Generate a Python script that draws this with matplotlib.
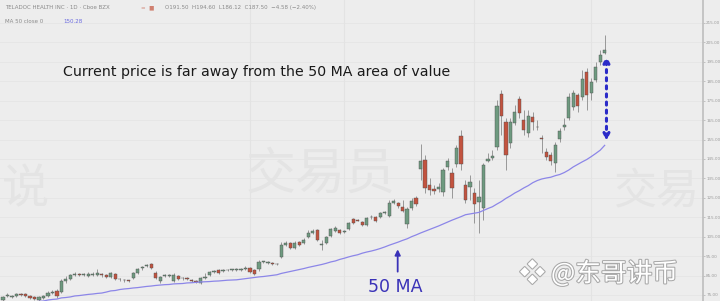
import numpy as np
import matplotlib.pyplot as plt
import matplotlib.patheffects as pe

# daily OHLC (price units)
opens = [72.4, 74.5, 74.0, 74.5, 75.5, 75.5, 74.5, 74.0, 72.4, 73.5,
         74.5, 76.0, 77.1, 76.5, 82.2, 83.2, 85.3, 85.8, 85.3, 84.8,
         85.3, 85.3, 85.8, 85.3, 84.3, 85.8, 83.2, 82.7, 82.2, 83.7,
         86.3, 88.9, 89.9, 91.0, 86.3, 82.2, 84.8, 84.8, 82.2, 84.8,
         83.7, 83.7, 82.7, 82.2, 81.2, 83.7, 85.3, 86.8, 87.9, 87.4,
         87.6, 87.9, 87.9, 87.9, 88.4, 88.9, 87.9, 88.4, 92.0, 91.5,
         91.5, 91.0, 94.6, 100.7, 101.8, 99.2, 102.3, 101.8, 104.9, 106.9,
         108.5, 100.7, 101.8, 105.4, 107.9, 108.5, 107.4, 109.0, 114.1, 113.6,
         112.6, 111.0, 114.9, 115.1, 115.1, 117.2, 115.7, 122.3, 122.3, 120.3,
         111.5, 119.8, 124.9, 139.8, 144.5, 131.6, 129.6, 129.6, 128.0, 140.9,
         137.8, 142.4, 156.8, 131.6, 130.6, 127.5, 122.9, 119.8, 144.0, 145.5,
         151.2, 178.5, 164.0, 153.2, 163.5, 175.9, 165.1, 158.4, 166.6, 161.5,
         155.8, 148.6, 147.1, 142.9, 155.3, 161.5, 166.1, 171.8, 177.9, 176.9,
         189.8, 179.0, 185.7, 194.9, 199.6]
closes = [74.0, 75.0, 74.5, 75.5, 75.0, 74.5, 73.5, 72.9, 74.0, 74.5,
          76.0, 76.5, 74.5, 82.2, 83.2, 85.3, 85.8, 85.3, 85.8, 85.8,
          85.8, 86.3, 85.3, 84.3, 86.3, 83.2, 83.0, 82.5, 82.1, 86.3,
          88.4, 89.4, 90.4, 88.9, 83.7, 84.3, 85.3, 85.3, 85.3, 83.2,
          83.5, 83.2, 82.2, 81.7, 83.7, 84.3, 86.8, 87.4, 86.3, 87.9,
          87.9, 88.0, 88.1, 88.4, 88.9, 86.8, 85.8, 92.0, 92.1, 92.0,
          91.0, 90.7, 100.7, 101.8, 99.2, 101.8, 100.7, 103.3, 106.9, 107.9,
          103.3, 101.0, 104.9, 109.0, 109.5, 106.9, 107.7, 112.1, 112.1, 113.3,
          111.0, 114.6, 115.1, 113.1, 117.2, 117.4, 122.3, 123.4, 120.8, 118.2,
          119.3, 123.4, 121.8, 144.0, 130.1, 129.0, 128.5, 130.6, 139.3, 144.0,
          130.1, 150.7, 142.4, 123.9, 133.2, 121.8, 125.4, 141.9, 145.0, 146.5,
          172.3, 167.1, 147.1, 164.0, 169.2, 168.7, 159.9, 167.1, 164.0, 161.2,
          155.5, 146.0, 144.0, 152.2, 159.4, 162.5, 176.9, 179.0, 172.3, 186.2,
          177.9, 184.6, 192.4, 198.5, 201.1]
highs = [74.5, 76.0, 75.0, 76.0, 76.0, 76.0, 75.0, 74.5, 74.5, 75.0,
         77.1, 77.6, 78.1, 83.2, 84.8, 85.8, 86.8, 86.3, 86.3, 86.8,
         86.8, 88.4, 86.3, 85.8, 86.8, 86.3, 83.7, 83.2, 82.7, 86.8,
         88.9, 89.9, 91.0, 91.5, 87.4, 84.8, 85.8, 85.8, 86.3, 85.3,
         84.3, 84.3, 83.2, 82.7, 84.3, 86.3, 87.4, 87.9, 88.4, 88.4,
         88.4, 88.4, 88.9, 88.9, 89.9, 89.4, 88.4, 93.0, 92.5, 92.5,
         92.0, 91.5, 102.3, 102.8, 102.3, 102.8, 102.8, 104.3, 108.5, 109.0,
         109.0, 103.3, 105.4, 109.5, 110.5, 109.0, 108.5, 112.6, 114.6, 114.1,
         113.1, 115.1, 116.2, 115.7, 117.7, 118.2, 123.9, 124.4, 122.9, 123.9,
         120.3, 124.9, 126.0, 152.7, 147.1, 135.2, 131.6, 132.6, 140.4, 145.5,
         140.4, 152.2, 159.9, 134.2, 136.8, 130.1, 134.2, 142.9, 148.1, 149.6,
         175.4, 180.5, 166.1, 166.1, 172.8, 177.4, 170.2, 170.2, 169.2, 165.1,
         157.3, 150.7, 148.6, 153.7, 160.9, 166.1, 179.0, 180.5, 179.0, 190.8,
         191.8, 186.7, 194.9, 201.1, 208.8]
lows = [71.9, 74.0, 73.5, 74.0, 74.5, 74.0, 72.9, 72.4, 71.9, 72.9,
        74.0, 75.5, 73.5, 76.0, 81.2, 82.7, 84.8, 84.8, 84.8, 84.3,
        84.8, 84.8, 84.3, 83.7, 83.7, 82.7, 82.2, 81.7, 81.7, 83.2,
        85.8, 87.9, 89.4, 88.4, 83.2, 81.2, 84.3, 84.3, 81.7, 82.7,
        82.7, 82.7, 81.7, 81.2, 80.7, 83.2, 84.8, 86.3, 85.8, 86.8,
        87.4, 87.4, 87.4, 87.4, 87.9, 86.3, 85.3, 87.4, 91.5, 91.0,
        90.4, 90.4, 94.0, 100.2, 98.7, 98.7, 100.2, 101.3, 104.3, 106.4,
        102.8, 98.2, 101.3, 104.9, 107.4, 106.4, 106.9, 108.5, 111.5, 113.1,
        110.5, 110.5, 114.1, 112.6, 114.6, 116.7, 115.1, 121.8, 119.8, 117.7,
        109.5, 118.8, 120.8, 134.2, 127.5, 126.5, 127.0, 128.0, 126.0, 139.3,
        124.9, 140.9, 139.3, 122.3, 123.9, 112.1, 106.9, 113.6, 143.5, 144.5,
        149.6, 157.3, 139.3, 150.7, 162.5, 166.1, 157.3, 156.3, 159.9, 159.9,
        148.1, 144.5, 141.9, 138.3, 153.7, 159.9, 165.1, 170.2, 169.2, 175.4,
        170.2, 175.4, 184.6, 193.4, 199.0]
# 50-day moving average as shown on the chart
ma50 = [67.8, 68.3, 68.8, 69.3, 69.9, 70.4, 70.9, 71.4, 71.7, 71.9,
        72.4, 72.7, 72.9, 73.5, 73.7, 74.0, 74.5, 74.7, 75.0, 75.3,
        75.5, 75.8, 76.0, 76.5, 77.1, 77.3, 77.8, 78.1, 78.3, 78.6,
        78.8, 79.1, 79.4, 79.6, 79.9, 80.1, 80.3, 80.4, 80.7, 80.8,
        80.9, 81.2, 81.3, 81.5, 81.7, 81.8, 81.9, 82.1, 82.2, 82.4,
        82.6, 82.7, 82.8, 83.1, 83.4, 83.7, 84.0, 84.3, 84.5, 84.8,
        85.1, 85.4, 86.1, 86.6, 87.1, 87.6, 88.1, 88.6, 89.2, 89.7,
        90.2, 90.7, 91.3, 92.0, 92.5, 93.3, 93.9, 94.6, 95.2, 95.7,
        96.5, 97.1, 97.6, 98.2, 98.9, 99.7, 100.6, 101.4, 102.2, 103.1,
        103.9, 105.0, 105.9, 106.9, 107.8, 108.7, 109.6, 110.5, 111.5, 112.5,
        113.5, 114.4, 115.3, 116.3, 116.7, 117.1, 117.5, 118.5, 119.5, 120.4,
        121.8, 123.1, 124.7, 126.0, 127.5, 128.7, 130.1, 131.3, 132.8, 133.9,
        134.7, 135.2, 135.6, 136.4, 137.0, 138.0, 139.3, 140.9, 142.2, 143.5,
        144.7, 146.2, 147.8, 149.5, 152.0]
price_ticks = [75, 85, 95, 105, 115, 125, 135, 145, 155, 165, 175, 185, 195, 205, 215]

bg = '#ededed'
up_c = '#6e9a80'
dn_c = '#c2533f'

fig = plt.figure(figsize=(7.2, 3.01), dpi=100)
fig.patch.set_facecolor(bg)
ax = fig.add_axes([0, 0, 703 / 720, 1])
ax.set_facecolor(bg)

idx = np.arange(len(opens))
o = np.array(opens); c = np.array(closes)
h = np.array(highs); l = np.array(lows)
up = c >= o
cols = np.where(up, up_c, dn_c)

ax.vlines(idx, l, h, color='#8a8a8a', lw=0.6, zorder=2)
ax.bar(idx, np.maximum(np.abs(c - o), 0.35), bottom=np.minimum(o, c), width=0.72,
       color=cols, edgecolor='#4f4f4f', linewidth=0.3, zorder=3)

ax.plot(idx, ma50, color='#8c86e8', lw=0.9, zorder=4)

# faint grid
for t in price_ticks:
    ax.axhline(t, color='#e5e5e5', lw=0.6, zorder=0)
for gx in [55, 76, 105, 131]:
    ax.axvline(gx, color='#e3e3e3', lw=0.8, zorder=0)

ax.set_xlim(-0.67, 155.9)
ax.set_ylim(71.9, 226.8)
ax.set_xticks([])
ax.yaxis.tick_right()
ax.set_yticks(price_ticks)
ax.set_yticklabels([f'{t:.2f}' for t in price_ticks], fontsize=3.0, color='#9a9a9a')
ax.tick_params(axis='y', length=1.5, width=0.5, colors='#b0b0b0', pad=0.8,
               labelcolor='#9a9a9a')
for s in ['top', 'left', 'bottom']:
    ax.spines[s].set_visible(False)
ax.spines['right'].set_color('#bdbdbd')
ax.spines['right'].set_linewidth(1.2)

# header text
hdr = dict(transform=ax.transAxes, fontsize=4.0, va='center')
ax.text(0.007, 0.975, 'TELADOC HEALTH INC · 1D · Cboe BZX', color='#8a8a8a', **hdr)
ax.text(0.2, 0.975, '=  ■', color='#d08070', **hdr)
ax.text(0.235, 0.975, 'O191.50  H194.60  L186.12  C187.50  −4.58 (−2.40%)',
        color='#8a8a8a', **hdr)
ax.text(0.007, 0.93, 'MA 50 close 0', color='#8a8a8a', **hdr)
ax.text(0.09, 0.93, '150.28', color='#6a6ae0', **hdr)

# watermarks
wm = dict(family=['Noto Sans CJK SC', 'DejaVu Sans'], color='#e4e4e4', zorder=1)
ax.text(0.35, 0.42, '交易员', transform=ax.transAxes, fontsize=36, ha='left', va='center', **wm)
ax.text(0.002, 0.37, '说', transform=ax.transAxes, fontsize=34, ha='left', va='center', **wm)
ax.text(0.873, 0.36, '交易', transform=ax.transAxes, fontsize=31, ha='left', va='center', **wm)

# annotation
ax.text(0.09, 0.76, 'Current price is far away from the 50 MA area of value',
        transform=ax.transAxes, fontsize=10.2, color='#1a1a1a', va='center')
ax.annotate('', xy=(134.4, 198.0), xytext=(134.4, 154.3),
            arrowprops=dict(arrowstyle='<|-|>', color='#2b2bc8', lw=2.2, ls=':',
                            mutation_scale=9, shrinkA=0, shrinkB=0), zorder=6)
ax.annotate('', xy=(87.9, 98.5), xytext=(87.9, 87.0),
            arrowprops=dict(arrowstyle='-|>', color='#3a32b8', lw=1.3,
                            mutation_scale=8, shrinkA=0, shrinkB=0), zorder=6)
ax.text(0.562, 0.045, '50 MA', transform=ax.transAxes, fontsize=12.5,
        color='#3a32b8', va='center', ha='center')

# bottom-right credit
ax.text(0.852, 0.09, '❖ @东哥讲币', transform=ax.transAxes, fontsize=18.5,
        family=['Noto Sans CJK SC', 'DejaVu Sans'], color='white', va='center', ha='center',
        path_effects=[pe.withStroke(linewidth=1.5, foreground='#a8a8a8')], zorder=7)

fig.savefig('out.png', dpi=100, facecolor=bg)
